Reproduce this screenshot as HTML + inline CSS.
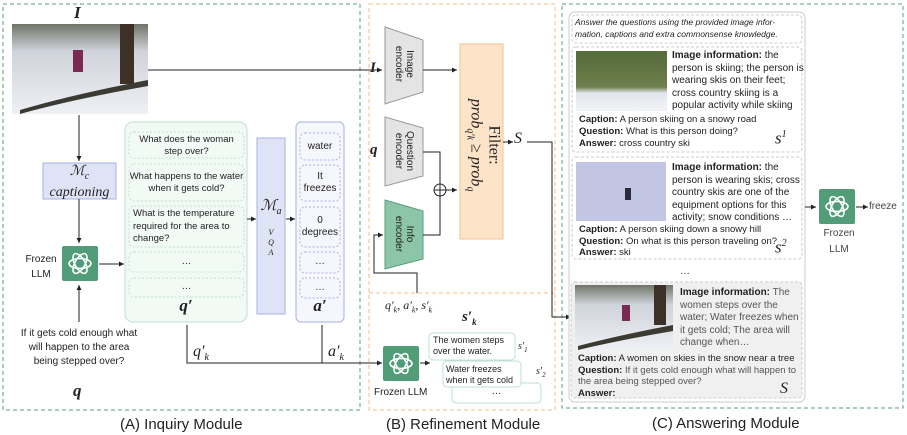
<!DOCTYPE html>
<html><head><meta charset="utf-8"><style>
body{margin:0;background:#fff;}
#c{position:relative;width:907px;height:435px;overflow:hidden;font-family:"Liberation Sans",sans-serif;color:#222;}
.t{position:absolute;font-size:10px;line-height:12px;}
.c{text-align:center;}
.m{font-family:"Liberation Serif",serif;font-style:italic;font-weight:bold;}
.cap{position:absolute;font-size:15px;color:#222;}
.card{position:absolute;font-size:9.5px;line-height:11.5px;}
b{font-weight:bold;}
</style></head><body><div id="c">
<svg width="907" height="435" style="position:absolute;left:0;top:0">
<defs>
<marker id="ar" markerWidth="6" markerHeight="6" refX="5" refY="3" orient="auto"><path d="M0,0.5 L5,3 L0,5.5 z" fill="#222"/></marker>
<linearGradient id="snow" x1="0" y1="0" x2="0" y2="1"><stop offset="0" stop-color="#6f7468"/><stop offset="0.3" stop-color="#cfd3da"/><stop offset="1" stop-color="#eef0f4"/></linearGradient>
<linearGradient id="snow2" x1="0" y1="0" x2="0" y2="1"><stop offset="0" stop-color="#556b3a"/><stop offset="0.6" stop-color="#6d7f4c"/><stop offset="0.7" stop-color="#e3e6ee"/><stop offset="1" stop-color="#f2f3f7"/></linearGradient>
<g id="gpt"><rect width="36" height="35" rx="2" fill="#519d78"/><g fill="none" stroke="#fff" stroke-width="1.6"><ellipse cx="18" cy="17.5" rx="11" ry="5" /><ellipse cx="18" cy="17.5" rx="11" ry="5" transform="rotate(60 18 17.5)"/><ellipse cx="18" cy="17.5" rx="11" ry="5" transform="rotate(120 18 17.5)"/></g></g>
</defs>
<rect x="3" y="4" width="357" height="406" fill="none" stroke="#5a9e7c" stroke-dasharray="4,3"/>
<rect x="369" y="4" width="186" height="406" fill="none" stroke="#f2bf88" stroke-dasharray="4,3"/>
<line x1="369" y1="293" x2="555" y2="293" stroke="#f2bf88" stroke-dasharray="4,3"/>
<rect x="562" y="4" width="341" height="404" fill="none" stroke="#5a9e7c" stroke-dasharray="4,3"/>
<rect x="12" y="24" width="136" height="90" fill="url(#snow)"/>
<rect x="120" y="24" width="14" height="60" fill="#3d3026"/>
<rect x="73" y="50" width="10" height="22" fill="#7a2a52"/>
<path d="M20,110 Q70,95 148,80 L148,86 Q70,100 20,114z" fill="#3b3a33"/>
<line x1="148" y1="70" x2="382" y2="70" stroke="#222" marker-end="url(#ar)"/>
<line x1="79" y1="115" x2="79" y2="161" stroke="#222" marker-end="url(#ar)"/>
<rect x="43" y="163" width="73" height="36" fill="#dfe3f6" stroke="#a7b1e3"/>
<line x1="79" y1="199" x2="79" y2="243" stroke="#222" marker-end="url(#ar)"/>
<use href="#gpt" x="62" y="246"/>
<line x1="99" y1="264" x2="124" y2="264" stroke="#222" marker-end="url(#ar)"/>
<line x1="79" y1="322" x2="79" y2="285" stroke="#222" marker-end="url(#ar)"/>
<rect x="125" y="122" width="122" height="200" rx="8" fill="#f2faf6" stroke="#bfe0cf"/>
<g fill="none" stroke="#bfe0cf" stroke-dasharray="2,2">
<rect x="129" y="132" width="115" height="26" rx="5"/><rect x="129" y="164" width="115" height="37" rx="5"/><rect x="129" y="206" width="115" height="41" rx="5"/><rect x="129" y="252" width="115" height="20" rx="5"/><rect x="129" y="278" width="115" height="19" rx="5"/></g>
<line x1="247" y1="219" x2="256" y2="219" stroke="#222" marker-end="url(#ar)"/>
<rect x="257" y="138" width="28" height="176" fill="#dfe3f6" stroke="#a7b1e3"/>
<line x1="286" y1="219" x2="295" y2="219" stroke="#222" marker-end="url(#ar)"/>
<rect x="296" y="122" width="48" height="200" rx="5" fill="#f6f7fd" stroke="#a7b1e3"/>
<g fill="none" stroke="#a7b1e3" stroke-dasharray="2,2">
<rect x="300" y="133" width="40" height="27" rx="5"/><rect x="300" y="165" width="40" height="36" rx="5"/><rect x="300" y="207" width="40" height="40" rx="5"/><rect x="300" y="252" width="40" height="21" rx="5"/><rect x="300" y="278" width="40" height="20" rx="5"/></g>
<polyline points="187,325 187,363 382,363" fill="none" stroke="#222" marker-end="url(#ar)"/>
<line x1="322" y1="325" x2="322" y2="363" stroke="#222"/>
<path d="M385,27 L423,40 L423,92 L385,104z" fill="#e4e4e4" stroke="#999"/>
<path d="M385,117 L423,128 L423,176 L385,186z" fill="#e4e4e4" stroke="#999"/>
<path d="M385,200 L423,211 L423,259 L385,269z" fill="#8cc5a8" stroke="#5a9e7c"/>
<rect x="460" y="44" width="43" height="195" fill="#fde3c8" stroke="#f4c28f"/>
<line x1="423" y1="70" x2="457" y2="70" stroke="#222" marker-end="url(#ar)"/>
<polyline points="423,152 440,152 440,184" fill="none" stroke="#222"/>
<polyline points="423,235 440,235 440,196" fill="none" stroke="#222"/>
<circle cx="440" cy="190" r="6" fill="#fff" stroke="#222"/>
<line x1="434" y1="190" x2="446" y2="190" stroke="#222"/><line x1="440" y1="184" x2="440" y2="196" stroke="#222"/>
<line x1="446" y1="190" x2="457" y2="190" stroke="#222" marker-end="url(#ar)"/>
<polyline points="417,293 417,273 374,273 374,235 383,235" fill="none" stroke="#222" marker-end="url(#ar)"/>
<line x1="503" y1="142" x2="513" y2="142" stroke="#222" marker-end="url(#ar)"/>
<polyline points="527,142 552,142 552,317 571,317" fill="none" stroke="#222" marker-end="url(#ar)"/>
<use href="#gpt" x="383" y="346"/>
<line x1="420" y1="363" x2="430" y2="363" stroke="#222" marker-end="url(#ar)"/>
<rect x="452" y="383" width="89" height="20" rx="4" fill="#fff" stroke="#bfe0cf"/>
<rect x="443" y="361" width="78" height="26" rx="4" fill="#fff" stroke="#bfe0cf"/>
<rect x="429" y="333" width="86" height="27" rx="4" fill="#fff" stroke="#bfe0cf"/>
<rect x="569" y="12" width="236" height="390" rx="6" fill="#fff" stroke="#ccc"/>
<g fill="#fff" stroke="#ccc" stroke-dasharray="3,2"><rect x="572" y="15" width="230" height="28" rx="4"/><rect x="572" y="47" width="230" height="105" rx="4"/><rect x="572" y="157" width="230" height="102" rx="4"/></g>
<rect x="571" y="282" width="231" height="116" rx="4" fill="#f0f0f0" stroke="#ccc" stroke-dasharray="3,2"/>
<rect x="576" y="51" width="91" height="60" fill="url(#snow2)"/>
<rect x="576" y="162" width="90" height="59" fill="#c2c6e3"/>
<rect x="625" y="188" width="6" height="12" fill="#2a2a3a"/>
<rect x="575" y="285" width="98" height="65" fill="url(#snow)"/>
<rect x="654" y="285" width="12" height="40" fill="#3d3026"/>
<rect x="622" y="305" width="8" height="16" fill="#7a2a52"/>
<path d="M578,346 Q620,335 673,325 L673,331 Q620,340 578,350z" fill="#3b3a33"/>
<line x1="805" y1="207" x2="816" y2="207" stroke="#222" marker-end="url(#ar)"/>
<use href="#gpt" x="819" y="189"/>
<line x1="856" y1="207" x2="868" y2="207" stroke="#222" marker-end="url(#ar)"/>
</svg>

<div class="t m" style="left:74px;top:3px;font-size:17px;line-height:20px">I</div>
<div class="t c" style="left:43px;top:164px;width:73px;font-family:'Liberation Serif',serif;font-style:italic;font-size:14px;line-height:16px">ℳ<sub style="font-size:10px">c</sub><br>captioning</div>
<div class="t c" style="left:20px;top:252px;width:42px;line-height:15px;font-size:10px">Frozen<br>LLM</div>
<div class="t c" style="left:18px;top:327px;width:122px;line-height:14px">If it gets cold enough what will happen to the area being stepped over?</div>
<div class="t m" style="left:73px;top:385px;font-size:17px">q</div>
<div class="t c" style="left:129px;top:134px;width:115px;font-size:9.5px">What does the woman step over?</div>
<div class="t c" style="left:129px;top:171px;width:115px;font-size:9.5px">What happens to the water when it gets cold?</div>
<div class="t" style="left:133px;top:208px;width:111px;font-size:9.5px;line-height:12.5px">What is the temperature required for the area to change?</div>
<div class="t c" style="left:129px;top:256px;width:115px">…</div>
<div class="t c" style="left:129px;top:281px;width:115px">…</div>
<div class="t m c" style="left:125px;top:300px;width:122px;font-size:17px">q′</div>
<div class="t c" style="left:257px;top:200px;width:28px;font-family:'Liberation Serif',serif;font-style:italic;font-size:15px">ℳ<sub style="font-size:10px">a</sub></div>
<div class="t c" style="left:257px;top:228px;width:28px;font-family:'Liberation Serif',serif;font-style:italic;font-size:8px;line-height:10px">V<br>Q<br>A</div>
<div class="t c" style="left:300px;top:141px;width:40px">water</div>
<div class="t c" style="left:300px;top:171px;width:40px">It<br>freezes</div>
<div class="t c" style="left:300px;top:215px;width:40px">0<br>degrees</div>
<div class="t c" style="left:300px;top:256px;width:40px">…</div>
<div class="t c" style="left:300px;top:282px;width:40px">…</div>
<div class="t m c" style="left:296px;top:300px;width:48px;font-size:17px">a′</div>
<div class="t" style="left:193px;top:343px;font-family:'Liberation Serif',serif;font-style:italic;font-size:16px;line-height:18px">q′<sub style="font-size:10px">k</sub></div>
<div class="t" style="left:328px;top:343px;font-family:'Liberation Serif',serif;font-style:italic;font-size:16px;line-height:18px">a′<sub style="font-size:10px">k</sub></div>

<div class="t m" style="left:370px;top:62px;font-size:15px">I</div>
<div class="t m" style="left:370px;top:144px;font-size:15px">q</div>
<div class="t c" style="left:366px;top:53px;width:76px;transform:rotate(90deg);line-height:11px">Image<br>encoder</div>
<div class="t c" style="left:366px;top:140px;width:76px;transform:rotate(90deg);line-height:11px">Question<br>encoder</div>
<div class="t c" style="left:366px;top:223px;width:76px;transform:rotate(90deg);line-height:11px">Info<br>encoder</div>
<div class="t c" style="left:384px;top:124px;width:195px;transform:rotate(90deg);font-size:16px;line-height:18px;font-family:'Liberation Serif',serif">Filter:<br><i>prob<sub style="font-size:10px">q′k</sub> ≥ prob<sub style="font-size:10px">q</sub></i></div>
<div class="t" style="left:514px;top:133px;font-family:'Liberation Serif',serif;font-style:italic;font-size:16px">S</div>
<div class="t" style="left:385px;top:299px;font-family:'Liberation Serif',serif;font-style:italic;font-size:12px">q′<sub style="font-size:8px">k</sub>, a′<sub style="font-size:8px">k</sub>, s′<sub style="font-size:8px">k</sub></div>
<div class="t" style="left:462px;top:311px;font-family:'Liberation Serif',serif;font-style:italic;font-weight:bold;font-size:15px">s′<sub style="font-size:9px">k</sub></div>
<div class="t" style="left:433px;top:335px;font-size:9px;line-height:11px">The women steps<br>over the water.</div>
<div class="t" style="left:446px;top:364px;font-size:9px;line-height:11px">Water freezes<br>when it gets cold</div>
<div class="t c" style="left:452px;top:386px;width:89px">…</div>
<div class="t" style="left:518px;top:341px;font-family:'Liberation Serif',serif;font-style:italic;font-size:10px">s′<sub style="font-size:7px">1</sub></div>
<div class="t" style="left:536px;top:366px;font-family:'Liberation Serif',serif;font-style:italic;font-size:10px">s′<sub style="font-size:7px">2</sub></div>
<div class="t" style="left:374px;top:387px;font-size:10px">Frozen LLM</div>

<div class="card" style="left:575px;top:17px;width:226px;font-style:italic;font-size:8.5px">Answer the questions using the provided image infor-<br>mation, captions and extra commonsense knowledge.</div>
<div class="card" style="left:672px;top:50px;width:132px;line-height:12.5px;font-size:10px"><b>Image information:</b> the person is skiing; the person is wearing skis on their feet; cross country skiing is a popular activity while skiing</div>
<div class="card" style="left:579px;top:114px;width:220px;line-height:12px"><b>Caption:</b> A person skiing on a snowy road<br><b>Question:</b> What is this person doing?<br><b>Answer:</b> cross country ski</div>
<div class="t" style="left:775px;top:129px;font-family:'Liberation Serif',serif;font-style:italic;font-size:17px">s<sup style="font-size:10px">1</sup></div>
<div class="card" style="left:672px;top:162px;width:132px;line-height:12.5px;font-size:10px"><b>Image information:</b> the person is wearing skis; cross country skis are one of the equipment options for this activity; snow conditions …</div>
<div class="card" style="left:579px;top:224px;width:220px;line-height:11.5px"><b>Caption:</b> A person skiing down a snowy hill<br><b>Question:</b> On what is this person traveling on?<br><b>Answer:</b> ski</div>
<div class="t" style="left:775px;top:238px;font-family:'Liberation Serif',serif;font-style:italic;font-size:17px">s<sup style="font-size:10px">2</sup></div>
<div class="t c" style="left:670px;top:266px;width:30px">…</div>
<div class="card" style="left:680px;top:287px;width:122px;line-height:12.5px;font-size:10px;color:#555"><b style="color:#222">Image information:</b> The women steps over the water; Water freezes when it gets cold; The area will change when…</div>
<div class="card" style="left:578px;top:353px;width:222px;line-height:11.5px"><b>Caption:</b> A women on skies in the snow near a tree<br><b>Question:</b> <span style="color:#555">If it gets cold enough what will happen to the area being stepped over?</span><br><b>Answer:</b></div>
<div class="t" style="left:780px;top:383px;font-family:'Liberation Serif',serif;font-style:italic;font-size:16px">S</div>
<div class="t c" style="left:810px;top:226px;width:58px;line-height:16px;color:#444">Frozen<br>LLM</div>
<div class="t" style="left:869px;top:201px;color:#444">freeze</div>

<div class="cap" style="left:120px;top:416px">(A) Inquiry Module</div>
<div class="cap" style="left:386px;top:416px">(B) Refinement Module</div>
<div class="cap" style="left:652px;top:415px">(C) Answering Module</div>
</div></body></html>
